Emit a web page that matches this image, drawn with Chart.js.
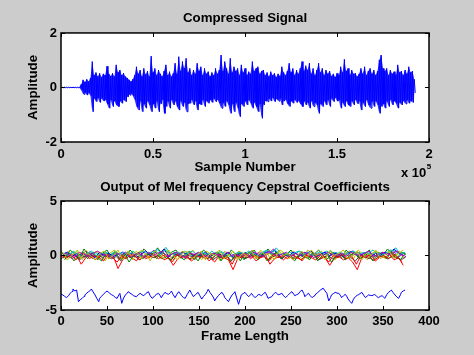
<!DOCTYPE html>
<html>
<head>
<meta charset="utf-8">
<script src="https://cdn.jsdelivr.net/npm/chart.js@4"></script>
<style>
  html, body { margin: 0; padding: 0; background: #cccccc; }
  body { width: 474px; height: 355px; position: relative; overflow: hidden; }
  canvas { position: absolute; left: 0; }
  #c1 { top: 0; }
  #c2 { top: 178px; }
</style>
</head>
<body>
<canvas id="c1" width="474" height="178"></canvas>
<canvas id="c2" width="474" height="177"></canvas>
<script>
// ---------- Top plot: compressed signal (max / min every 1000 samples) ----------
const sampleStep = 1000;
const signalUpper = [
  0.01,0.01,0.01,0.01,0.01,0.01,0.01,0.01,0.01,0.01,
  0.01,0.12,0.28,0.20,0.30,0.22,0.35,0.95,0.45,0.55,
  0.40,0.52,0.38,0.50,0.45,0.78,0.50,0.42,0.52,0.40,
  0.83,0.55,0.64,0.45,0.52,0.40,0.35,0.28,0.22,0.30,
  0.45,0.76,0.50,0.64,0.40,0.70,0.48,0.60,0.40,1.15,
  0.55,0.70,0.45,0.64,0.50,0.40,0.60,0.83,0.45,0.58,
  0.40,0.52,0.89,0.50,1.13,0.60,0.95,0.70,1.07,0.55,
  0.70,0.45,0.64,0.50,0.89,0.60,0.76,0.45,0.70,0.50,
  0.58,0.40,0.55,0.45,0.70,0.50,0.64,1.19,0.60,0.95,
  0.70,0.50,1.07,0.55,0.76,0.60,0.70,0.45,0.83,0.55,
  0.70,0.45,0.58,0.50,0.95,0.60,0.70,0.76,0.50,0.60,
  0.64,0.45,0.55,0.40,0.58,0.45,0.52,0.38,0.50,0.42,
  0.76,0.55,0.45,0.60,0.89,0.55,0.70,0.45,0.64,0.50,
  0.70,0.95,0.60,0.80,0.64,0.89,0.50,0.70,0.45,0.64,
  0.89,0.55,0.70,0.45,0.64,0.50,0.60,0.42,0.50,0.38,
  0.52,0.45,0.76,0.55,1.03,0.60,0.70,0.45,0.64,0.50,
  0.52,0.40,0.50,0.70,0.50,0.76,0.45,0.60,0.70,0.50,
  0.64,0.45,0.60,1.01,1.19,0.70,0.60,0.70,0.45,0.64,
  0.50,0.58,0.45,0.83,0.55,0.60,0.45,0.64,0.50,0.76,
  0.55,0.60,0.30
];
const signalLower = [
  -0.01,-0.01,-0.01,-0.01,-0.01,-0.01,-0.01,-0.01,-0.01,-0.01,
  -0.01,-0.10,-0.25,-0.18,-0.28,-0.20,-0.30,-0.89,-0.40,-0.52,
  -0.38,-0.55,-0.40,-0.50,-0.45,-0.60,-0.76,-0.45,-0.70,-0.50,
  -0.64,-0.70,-0.50,-0.58,-0.45,-0.52,-0.35,-0.28,-0.22,-0.30,
  -0.45,-0.70,-0.83,-0.50,-0.89,-0.60,-0.76,-0.50,-0.64,-0.89,
  -0.60,-0.76,-0.50,-0.89,-0.60,-0.45,-0.95,-0.70,-0.50,-0.76,
  -0.45,-0.64,-0.50,-0.70,-0.83,-0.50,-0.70,-0.55,-0.89,-0.60,
  -0.58,-0.45,-0.64,-0.50,-0.83,-0.60,-0.64,-0.45,-0.70,-0.50,
  -0.58,-0.45,-0.55,-0.40,-0.52,-0.45,-0.58,-0.76,-0.55,-0.70,
  -0.50,-0.64,-0.95,-0.60,-0.89,-0.55,-0.76,-1.07,-0.60,-0.70,
  -0.50,-0.64,-0.45,-0.58,-0.76,-0.55,-0.70,-0.89,-0.60,-1.13,
  -0.64,-0.50,-0.52,-0.40,-0.50,-0.38,-0.52,-0.42,-0.50,-0.40,
  -0.64,-0.50,-0.45,-0.60,-0.70,-0.50,-0.58,-0.45,-0.55,-0.50,
  -0.60,-0.70,-0.50,-0.64,-0.55,-0.76,-0.50,-0.70,-0.55,-0.64,
  -0.95,-0.60,-0.70,-0.50,-0.64,-0.45,-0.70,-0.40,-0.52,-0.38,
  -0.50,-0.45,-0.76,-0.55,-0.70,-0.50,-0.64,-0.70,-0.50,-0.64,
  -0.45,-0.60,-0.50,-0.83,-0.55,-0.70,-0.45,-0.64,-0.76,-0.50,
  -0.70,-0.50,-0.64,-0.95,-0.70,-0.60,-0.76,-0.50,-0.70,-0.45,
  -0.64,-0.50,-0.58,-0.76,-0.55,-0.64,-0.50,-0.60,-0.45,-0.58,
  -0.50,-0.55,-0.20
];
const sampleTicks = [0, 50000, 100000, 150000, 200000];
const sampleTickLabels = ['0', '0.5', '1', '1.5', '2'];
const amplitudeTicks1 = [-2, 0, 2];

// ---------- Bottom plot: MFCC ----------
const c0Frames = [0,2,4,6,8,10,12,13,15,17,19,21,23,25,26,28,30,32,33,35,37,39,41,42,44,46,48,50,52,53,55,57,59,61,63,64,66,68,70,72,73,75,77,79,82,84,86,88,90,92,95,97,99,101,102,104,106,108,109,111,113,115,117,119,120,122,124,126,128,130,131,133,135,137,140,142,144,146,149,151,153,155,157,159,160,162,164,166,167,169,171,173,175,177,178,180,182,184,186,188,189,191,193,195,196,198,200,202,204,206,207,209,211,213,215,217,218,220,222,224,225,227,229,231,233,235,236,238,240,242,244,246,247,249,251,253,254,256,258,260,262,264,265,267,269,271,273,275,276,279,282,285,287,289,291,293,294,296,298,300,302,304,305,307,309,311,312,314,316,318,320,322,323,325,327,329,331,333,334,336,338,340,341,343,345,347,349,351,352,354,356,358,359,361,363,365,367,369,370,372,374];
const c0Values = [-3.55,-3.62,-3.75,-3.87,-3.7,-3.47,-3.3,-3.07,-3.26,-3.17,-4.24,-4.05,-3.93,-3.75,-3.62,-3.45,-3.32,-3.2,-3.07,-3.35,-3.62,-3.95,-4.24,-3.93,-3.75,-3.56,-3.4,-3.26,-3.4,-3.47,-3.6,-3.69,-3.85,-3.93,-3.6,-3.47,-4.39,-3.9,-3.62,-3.45,-3.32,-3.45,-3.56,-3.7,-3.78,-3.6,-3.47,-3.6,-3.69,-3.5,-3.32,-3.7,-3.93,-3.8,-3.69,-3.55,-3.47,-3.7,-3.87,-3.6,-3.38,-3.5,-3.56,-3.4,-3.26,-3.6,-3.87,-3.55,-3.32,-3.55,-3.69,-3.85,-3.93,-3.6,-3.17,-3.5,-3.78,-3.6,-3.38,-3.7,-4.0,-3.75,-3.56,-3.3,-3.1,-3.4,-3.62,-3.9,-4.17,-3.9,-3.69,-3.5,-3.38,-3.65,-3.87,-4.05,-4.24,-3.9,-3.62,-3.45,-3.32,-3.9,-4.48,-3.9,-3.62,-3.5,-3.38,-3.6,-3.78,-3.6,-3.47,-3.7,-3.87,-3.7,-3.56,-3.65,-3.69,-3.5,-3.38,-3.7,-3.93,-3.85,-3.78,-3.55,-3.38,-3.5,-3.62,-3.55,-3.47,-3.7,-3.87,-3.7,-3.62,-3.45,-3.32,-3.55,-3.69,-3.6,-3.53,-3.3,-3.17,-3.5,-3.78,-3.6,-3.47,-3.7,-3.87,-3.7,-3.62,-3.4,-3.17,-3.0,-3.25,-3.47,-4.17,-3.85,-3.62,-3.5,-3.38,-3.45,-3.47,-3.7,-3.87,-3.7,-3.56,-3.8,-3.99,-4.2,-4.39,-4.0,-3.78,-3.65,-3.62,-3.5,-3.38,-3.65,-3.87,-3.7,-3.62,-3.65,-3.69,-3.6,-3.56,-3.75,-3.87,-3.75,-3.69,-3.85,-3.93,-3.6,-3.38,-3.25,-3.17,-3.4,-3.62,-3.8,-3.93,-3.6,-3.38,-3.25,-3.17];

// coefficients 1..12, one value every 5 frames, each starting at its own frame
const frameStep = 5;
const lastFrame = 375;
const mfccStartFrames = [0, 2, 4, 1, 3, 0, 2, 4, 1, 3, 0, 2];
const c1 = [0.4,-0.2,0.5,0.1,-0.3,0.6,0.0,0.3,-0.4,0.2, 0.5,-0.2,0.3,0.0,-0.3,0.5,0.1,-0.2,0.6,0.2, 0.0,0.7,0.1,-0.3,0.3,0.5,-0.2,0.1,0.4,-0.4, 0.0,0.5,0.1,-0.3,0.3,0.0,-0.2,0.5,0.1,-0.5, 0.3,0.0,0.5,-0.2,0.1,0.6,0.0,0.3,-0.3,0.1, 0.5,-0.2,0.0,0.3,-0.4,0.1,0.5,0.0,-0.3,0.3, 0.1,-0.2,0.5,0.0,0.3,-0.3,0.1,0.5,-0.2,0.3, 0.0,0.6,0.1,-0.3,0.3,0.1];
const c2 = [-0.2,0.1,-0.3,0.0,-0.8,-0.2,0.1,-0.4,-0.1,0.2, -0.3,-0.1,-1.2,-0.4,0.0,-0.2,-0.5,0.1,-0.3,-0.1, -0.2,0.1,-0.4,-0.2,-0.9,-0.3,0.0,-0.2,-0.5,-0.1, 0.1,-0.3,-0.2,-0.6,0.0,-0.2,-0.4,-1.3,-0.3,-0.1, -0.2,0.0,-0.5,-0.2,0.1,-0.8,-0.3,-0.1,-0.4,0.0, -0.3,-0.1,-0.5,0.1,-0.2,-0.4,0.0,-0.2,-0.9,-0.3, -0.1,-0.4,-0.2,-0.6,-1.3,-0.2,0.0,-0.3,-0.5,-0.1, -0.2,0.1,-0.4,-0.2,-0.9,-0.3];
const c3 = [0.3,0.1,0.4,-0.1,0.2,0.0,0.3,0.2,-0.1,0.3, 0.1,0.4,0.0,0.2,0.3,-0.1,0.2,0.4,0.1,0.0, 0.6,0.2,0.75,0.1,0.3,0.0,0.4,0.2,-0.1,0.3, 0.2,0.0,0.4,0.1,0.3,-0.1,0.2,0.0,0.3,0.1, 0.4,0.2,0.0,0.3,0.5,0.1,0.7,0.2,0.0,0.3, 0.1,0.4,0.2,-0.1,0.3,0.0,0.2,0.4,0.1,0.3, 0.0,0.2,0.4,0.1,0.3,0.0,0.2,0.5,0.1,0.3, 0.2,0.4,0.7,0.1,0.3,0.2];
const c4 = [0.0,-0.3,0.2,-0.1,0.1,-0.2,0.3,-0.1,0.0,0.2, -0.2,0.1,0.0,-0.3,0.2,0.0,-0.1,0.3,-0.2,0.1, 0.5,-0.1,0.2,0.0,-0.2,0.3,0.1,-0.3,0.2,0.0, -0.1,0.2,-0.2,0.1,0.0,-0.3,0.3,-0.1,0.1,0.0, 0.2,-0.2,0.1,0.3,-0.1,0.2,0.6,0.0,-0.2,0.1, 0.0,-0.1,0.3,0.1,-0.2,0.2,0.0,0.3,-0.1,0.1, -0.2,0.2,0.0,-0.1,0.3,0.1,-0.2,0.2,0.0,-0.1, 0.3,0.1,0.5,-0.2,0.1,0.0];
const c5 = [-0.3,0.4,0.0,0.5,-0.4,0.2,-0.2,0.4,0.1,-0.5, 0.2,0.5,-0.3,0.0,0.4,-0.4,0.2,0.5,-0.2,0.1, 0.4,-0.3,0.6,0.0,-0.4,0.2,0.4,-0.3,0.5,0.0, -0.4,0.4,0.1,0.2,-0.5,0.4,0.0,-0.3,0.4,0.2, 0.0,0.5,-0.3,0.2,0.4,-0.4,0.1,0.5,0.2,-0.3, 0.4,0.0,-0.4,0.5,0.2,-0.3,0.4,0.0,0.5,-0.4, 0.2,0.0,0.4,-0.3,0.5,0.1,-0.4,0.2,0.4,0.0, -0.3,0.5,0.0,0.4,-0.3,0.3];
const c6 = [-0.3,0.0,-0.2,0.1,-0.4,-0.1,0.0,-0.3,0.1,-0.2, 0.0,-0.3,-0.1,-0.5,0.1,-0.2,0.0,-0.4,-0.1,0.1, -0.2,0.0,-0.3,-0.1,-0.4,0.1,-0.2,0.0,-0.3,-0.1, 0.0,-0.2,0.1,-0.4,-0.1,-0.2,0.0,-0.5,-0.1,0.0, -0.3,-0.1,0.1,-0.2,0.0,-0.4,-0.1,0.0,-0.3,0.1, -0.1,-0.3,0.0,-0.2,-0.1,0.1,-0.4,-0.2,0.0,-0.3, -0.1,0.0,-0.3,-0.2,-0.5,0.0,-0.1,-0.3,0.1,-0.2, 0.0,-0.3,-0.1,-0.2,-0.4,-0.1];
const c7 = [0.1,0.3,-0.1,0.2,0.0,0.4,0.1,-0.2,0.3,0.0, 0.2,-0.1,0.1,0.3,0.0,0.2,-0.2,0.1,0.4,0.0, 0.3,0.1,0.6,-0.1,0.2,0.0,0.3,0.1,-0.1,0.2, 0.0,0.3,-0.1,0.2,0.1,0.0,0.3,-0.2,0.1,0.2, 0.0,0.4,0.1,-0.1,0.3,0.2,0.5,0.0,0.2,-0.1, 0.3,0.1,0.0,0.2,0.4,-0.1,0.1,0.3,0.0,0.2, 0.1,-0.1,0.2,0.4,0.0,0.1,0.3,-0.1,0.2,0.0, 0.3,0.1,0.6,0.2,0.0,0.3];
const c8 = [-0.4,0.2,-0.5,0.0,0.3,-0.3,0.2,-0.1,-0.5,0.2, 0.0,0.3,-0.4,0.2,-0.6,0.0,0.3,-0.3,0.1,0.2, -0.3,0.4,0.0,-0.5,0.2,-0.1,-0.4,0.3,0.0,-0.5, 0.2,-0.3,0.0,0.3,-0.5,0.2,-0.6,0.0,0.2,-0.4, 0.3,0.0,-0.4,0.2,-0.5,0.0,0.3,-0.3,0.2,-0.1, -0.5,0.2,0.0,-0.3,0.3,-0.5,0.0,0.2,-0.6,0.0, 0.2,-0.4,0.0,0.3,-0.3,-0.1,0.2,-0.5,0.0,0.2, -0.3,0.3,0.0,-0.4,0.2,-0.1];
const c9 = [0.0,-0.2,0.1,-0.4,-0.1,0.2,-0.3,0.0,-0.1,-0.5, 0.1,-0.2,-0.6,0.0,-0.3,0.1,-0.1,-0.4,0.0,-0.2, 0.1,-0.3,0.0,-0.1,-0.6,0.1,-0.2,0.0,-0.4,0.1, -0.2,0.0,-0.5,-0.1,0.2,-0.3,-0.1,-0.8,0.0,-0.2, 0.1,-0.3,0.0,-0.2,-0.1,-0.5,0.1,-0.2,0.0,-0.3, 0.1,-0.2,-0.4,0.0,-0.1,0.2,-0.3,-0.1,-0.6,0.0, -0.2,0.1,-0.3,-0.1,-0.8,0.0,-0.2,0.1,-0.4,-0.1, 0.0,-0.3,0.1,-0.2,-0.6,0.0];
const c10 = [0.2,0.0,0.3,0.1,-0.1,0.2,0.4,0.0,0.1,0.3, -0.1,0.2,0.1,0.3,0.0,0.4,0.1,-0.1,0.2,0.3, 0.4,0.0,0.5,0.2,0.1,0.3,-0.1,0.2,0.4,0.0, 0.3,0.1,0.2,0.0,0.4,0.2,-0.1,0.1,0.3,0.2, 0.1,0.3,0.0,0.2,0.4,0.3,0.5,0.1,0.2,0.0, 0.2,0.4,0.1,0.3,0.0,0.2,0.3,0.1,0.4,0.0, 0.3,0.1,0.2,0.4,0.0,0.3,0.2,0.1,0.3,0.0, 0.2,0.5,0.4,0.1,0.3,0.2];
const c11 = [-0.1,0.2,0.0,-0.2,0.3,0.1,-0.1,0.2,0.4,0.0, 0.1,-0.2,0.2,0.0,0.3,-0.1,0.1,0.2,-0.2,0.3, 0.0,0.2,0.4,-0.1,0.1,0.3,0.0,-0.2,0.2,0.1, 0.3,0.0,-0.1,0.2,0.1,-0.2,0.3,0.0,0.1,-0.1, 0.2,0.0,0.3,0.1,-0.1,0.4,0.2,0.0,0.1,0.3, -0.1,0.2,0.0,0.3,0.1,-0.2,0.2,0.0,0.3,0.1, 0.0,0.2,-0.1,0.3,0.1,0.0,0.2,0.4,-0.1,0.1, 0.3,0.0,0.2,0.4,0.1,-0.1];
const c12 = [0.3,-0.4,0.0,0.4,-0.3,0.5,0.0,-0.4,0.2,0.4, -0.3,0.0,0.5,-0.4,0.2,0.0,0.4,-0.3,0.2,-0.5, 0.4,0.0,-0.3,0.5,0.0,-0.4,0.2,0.4,-0.3,0.0, 0.4,-0.4,0.2,0.0,0.5,-0.3,0.0,0.4,-0.4,0.2, 0.0,0.4,-0.3,0.5,0.0,0.2,-0.4,0.4,0.0,0.2, -0.4,0.0,0.4,-0.3,0.5,0.0,0.2,-0.4,0.4,0.0, 0.2,0.5,-0.3,0.0,0.4,-0.4,0.2,0.0,0.5,-0.3, 0.0,0.4,-0.3,0.2,0.5,0.0];
const mfccCoefficients = [c1, c2, c3, c4, c5, c6, c7, c8, c9, c10, c11, c12];
const frameTicks = [0, 50, 100, 150, 200, 250, 300, 350, 400];
const amplitudeTicks2 = [-5, 0, 5];

// MATLAB default colour order
const colorOrder = ['#0000ff', '#008000', '#ff0000', '#00bfbf', '#bf00bf', '#bfbf00', '#404040'];

// ---------- helpers ----------
const FONT = 'Liberation Sans, Arial, Helvetica, sans-serif';
const boldFont = (size) => ({ family: FONT, size: size, weight: 'bold', lineHeight: 1.2 });

const boxTicksPlugin = {
  id: 'boxTicks',
  afterDraw(chart, args, opts) {
    const { ctx, chartArea: a } = chart;
    const len = 4;
    ctx.save();
    ctx.strokeStyle = '#000';
    ctx.lineWidth = 1;
    const xs = chart.scales.x, ys = chart.scales.y;
    ctx.beginPath();
    (opts.xTicks || []).forEach(v => {
      const p = Math.round(xs.getPixelForValue(v)) + 0.5;
      ctx.moveTo(p, a.bottom); ctx.lineTo(p, a.bottom - len);
      ctx.moveTo(p, a.top); ctx.lineTo(p, a.top + len);
    });
    (opts.yTicks || []).forEach(v => {
      const p = Math.round(ys.getPixelForValue(v)) + 0.5;
      ctx.moveTo(a.left, p); ctx.lineTo(a.left + len, p);
      ctx.moveTo(a.right, p); ctx.lineTo(a.right - len, p);
    });
    ctx.stroke();
    ctx.lineWidth = 1.5;
    ctx.strokeRect(a.left, a.top, a.right - a.left, a.bottom - a.top);
    if (opts.exponent) {
      ctx.fillStyle = '#000';
      ctx.textBaseline = 'middle';
      ctx.textAlign = 'left';
      ctx.font = 'bold 13px ' + FONT;
      ctx.fillText('x 10', 401, 173);
      const w = ctx.measureText('x 10').width;
      ctx.font = 'bold 8px ' + FONT;
      ctx.fillText('5', 401 + w + 0.5, 167);
    }
    ctx.restore();
  }
};

const whiteAreaPlugin = {
  id: 'whiteArea',
  beforeDraw(chart) {
    const { ctx, chartArea: a } = chart;
    ctx.save();
    ctx.fillStyle = '#ffffff';
    ctx.fillRect(a.left, a.top, a.right - a.left, a.bottom - a.top);
    ctx.restore();
  }
};

function commonScales(opt) {
  return {
    x: {
      type: 'linear', min: opt.xMin, max: opt.xMax,
      afterFit(s) { s.height = opt.xHeight; },
      afterBuildTicks(s) { s.ticks = opt.xTicks.map(v => ({ value: v })); },
      grid: { display: false, drawTicks: false },
      border: { display: false },
      ticks: { color: '#000', font: boldFont(13), padding: opt.xPad, maxRotation: 0, autoSkip: false,
        callback: opt.xLabel },
      title: { display: true, text: opt.xTitle, color: '#000', font: boldFont(13.3),
        padding: { top: 0, bottom: opt.xTitlePad } }
    },
    y: {
      type: 'linear', min: opt.yMin, max: opt.yMax,
      afterFit(s) { s.width = 61; },
      afterBuildTicks(s) { s.ticks = opt.yTicks.map(v => ({ value: v })); },
      grid: { display: false, drawTicks: false },
      border: { display: false },
      ticks: { color: '#000', font: boldFont(13), padding: 4, autoSkip: false },
      title: { display: true, text: 'Amplitude', color: '#000', font: boldFont(13.3),
        padding: { top: 25, bottom: 0 } }
    }
  };
}

// ---------- Chart 1: envelope fill + max/min strokes ----------
const upperPts = signalUpper.map((v, i) => ({ x: i * sampleStep, y: v }));
const lowerPts = signalLower.map((v, i) => ({ x: i * sampleStep, y: v }));
const wavePts = [];
signalUpper.forEach((v, i) => {
  wavePts.push({ x: i * sampleStep, y: v });
  wavePts.push({ x: i * sampleStep + sampleStep / 2, y: signalLower[i] });
});

new Chart(document.getElementById('c1'), {
  type: 'line',
  data: {
    datasets: [
      { data: wavePts, borderColor: '#0000ff', borderWidth: 1,
        pointRadius: 0, fill: false, tension: 0, order: 0 },
      { data: upperPts, borderColor: 'rgba(0,0,255,0)', backgroundColor: 'rgba(0,0,255,0.8)',
        borderWidth: 0, pointRadius: 0, fill: '+1', tension: 0, order: 1 },
      { data: lowerPts, borderColor: 'rgba(0,0,255,0)', borderWidth: 0,
        pointRadius: 0, fill: false, tension: 0, order: 2 }
    ]
  },
  options: {
    responsive: false, animation: false, devicePixelRatio: 1,
    layout: { padding: { left: 0, right: 45, top: 0, bottom: 0 } },
    plugins: {
      legend: { display: false }, tooltip: { enabled: false },
      filler: { drawTime: 'beforeDatasetsDraw' },
      title: { display: true, fullSize: false, text: 'Compressed Signal', color: '#000', font: boldFont(13.3),
        padding: { top: 10.5, bottom: 6.5 } },
      boxTicks: { xTicks: sampleTicks, yTicks: amplitudeTicks1, exponent: true }
    },
    scales: commonScales({
      xMin: 0, xMax: 200000, xTicks: sampleTicks, xHeight: 36, xPad: 5, xTitlePad: 2.2,
      xTitle: 'Sample Number',
      xLabel: (v) => { const i = sampleTicks.indexOf(v); return i >= 0 ? sampleTickLabels[i] : ''; },
      yMin: -2, yMax: 2, yTicks: amplitudeTicks1
    })
  },
  plugins: [whiteAreaPlugin, boxTicksPlugin]
});

// ---------- Chart 2 ----------
const mfccDatasets = [{
  data: c0Frames.map((f, i) => ({ x: f, y: c0Values[i] })),
  borderColor: colorOrder[0], borderWidth: 1, pointRadius: 0, fill: false, tension: 0, order: 0
}];
mfccCoefficients.forEach((arr, k) => {
  mfccDatasets.push({
    data: arr.map((v, i) => ({ x: mfccStartFrames[k] + i * frameStep, y: v }))
             .filter(p => p.x <= lastFrame),
    borderColor: colorOrder[(k + 1) % colorOrder.length], borderWidth: 1,
    pointRadius: 0, fill: false, tension: 0, order: -(k + 1)
  });
});

new Chart(document.getElementById('c2'), {
  type: 'line',
  data: { datasets: mfccDatasets },
  options: {
    responsive: false, animation: false, devicePixelRatio: 1,
    layout: { padding: { left: 0, right: 45, top: 0, bottom: 0 } },
    plugins: {
      legend: { display: false }, tooltip: { enabled: false },
      title: { display: true, fullSize: false, text: 'Output of Mel frequency Cepstral Coefficients', color: '#000',
        font: boldFont(13.3), padding: { top: 1.5, bottom: 5.5 } },
      boxTicks: { xTicks: frameTicks, yTicks: amplitudeTicks2, exponent: false }
    },
    scales: commonScales({
      xMin: 0, xMax: 400, xTicks: frameTicks, xHeight: 45, xPad: 4, xTitlePad: 10.5,
      xTitle: 'Frame Length',
      xLabel: (v) => String(v),
      yMin: -5, yMax: 5, yTicks: amplitudeTicks2
    })
  },
  plugins: [whiteAreaPlugin, boxTicksPlugin]
});
</script>
</body>
</html>
